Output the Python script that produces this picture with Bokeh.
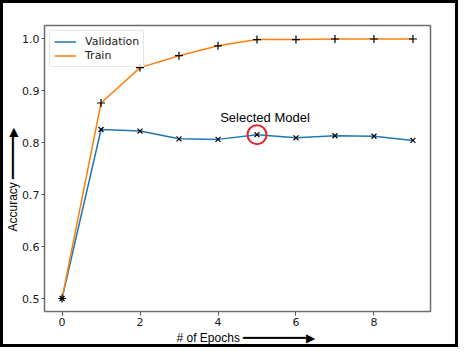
from bokeh.plotting import figure
from bokeh.layouts import column
from bokeh.models import Range1d, FixedTicker, PrintfTickFormatter, Label, Title
from bokeh.embed import file_html
from bokeh.resources import INLINE

# ---- data ----
epochs = list(range(10))
validation = [0.500, 0.825, 0.822, 0.807, 0.806, 0.815, 0.809, 0.813, 0.812, 0.804]
train = [0.500, 0.876, 0.944, 0.967, 0.986, 0.998, 0.998, 0.999, 0.999, 0.999]
x_ticks = [0, 2, 4, 6, 8]
y_ticks = [0.5, 0.6, 0.7, 0.8, 0.9, 1.0]
selected_epoch = 5
selected_text = "Selected Model"
x_label = "# of Epochs"
y_label = "Accuracy"
x_arrow = " \u2501\u2501\u2501\u2501\u2501\u2501\u2501\u2501\u2501\u25B6"
y_arrow = " \u2501\u2501\u2501\u2501\u2501\u2501\u25B6"

X_LO, X_HI = -0.45, 9.45
Y_LO, Y_HI = 0.475, 1.025

p = figure(width=452, height=341,
           x_range=Range1d(X_LO, X_HI), y_range=Range1d(Y_LO, Y_HI),
           output_backend="svg", toolbar_location=None,
           min_border_left=41, min_border_right=25,
           min_border_top=22, min_border_bottom=32)

p.background_fill_color = "white"
p.border_fill_color = "white"
p.outline_line_color = "#6e6e6e"
p.outline_line_width = 1.5
p.xgrid.visible = False
p.ygrid.visible = False

for ax in (p.xaxis, p.yaxis):
    ax.axis_line_color = None
    ax.major_tick_line_color = "#555555"
    ax.major_tick_out = 4
    ax.major_tick_in = 0
    ax.minor_tick_line_color = None
    ax.major_label_text_font = "DejaVu Sans"
    ax.major_label_text_font_size = "11px"
    ax.major_label_text_color = "#1a1a1a"
p.yaxis.major_tick_out = 3
p.yaxis.major_label_standoff = 2
p.xaxis.major_label_standoff = 2

p.xaxis.ticker = FixedTicker(ticks=x_ticks)
p.yaxis.ticker = FixedTicker(ticks=y_ticks)
p.yaxis.formatter = PrintfTickFormatter(format="%.1f")

p.line(epochs, validation, line_color="#1f77b4", line_width=1.5, legend_label="Validation")
p.line(epochs, train, line_color="#ff7f0e", line_width=1.5, legend_label="Train")
p.scatter(epochs, validation, marker="x", size=7, line_color="black", line_width=1.2)
p.scatter(epochs, train, marker="cross", size=8, line_color="black", line_width=1.2)

# selected model circle
p.scatter([epochs[selected_epoch]], [validation[selected_epoch]], marker="circle", size=19,
          fill_color=None, line_color="#e0262a", line_width=2)
p.add_layout(Label(x=epochs[selected_epoch], y=validation[selected_epoch], x_offset=8, y_offset=17,
                   text=selected_text, text_align="center", text_baseline="alphabetic",
                   text_font="Liberation Sans", text_font_size="13px", text_color="black"))

# legend
lg = p.legend[0]
lg.location = "top_left"
lg.margin = 5
lg.padding = 4
lg.spacing = 1
lg.label_height = 13
lg.glyph_height = 13
lg.glyph_width = 22
lg.label_standoff = 9
lg.label_text_font = "DejaVu Sans"
lg.label_text_font_size = "11px"
lg.label_text_color = "#1a1a1a"
lg.border_line_color = "#cccccc"
lg.border_line_width = 1
lg.background_fill_alpha = 0.8

# axis titles with arrows (offset measured from the frame's start edge)
p.add_layout(Title(text=y_label + y_arrow, align="left", offset=80, standoff=0,
                   text_font="Liberation Sans", text_font_size="12px",
                   text_font_style="normal", text_color="black"), "left")
p.add_layout(Title(text=x_label + x_arrow, align="left", offset=132, standoff=0,
                   text_font="Liberation Sans", text_font_size="12px",
                   text_font_style="normal", text_color="black"), "below")

layout = column(p, styles={"border": "3px solid black"})

open("out.html", "w").write(file_html(layout, INLINE))
